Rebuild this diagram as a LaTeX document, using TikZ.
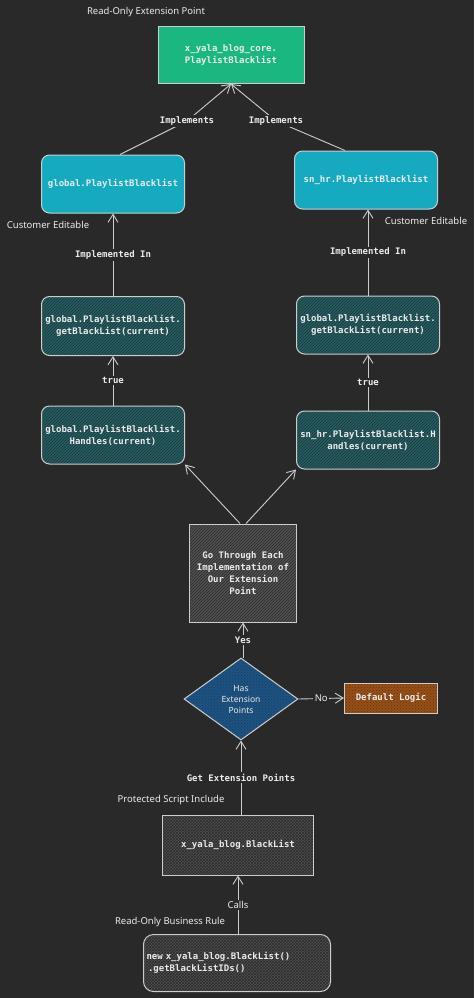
\documentclass[tikz,border=0pt]{standalone}
\usepackage{fontspec}
\setmonofont{DejaVu Sans Mono}
\newfontfamily\handfont{Noto Sans}
\usetikzlibrary{arrows.meta,patterns,shapes.geometric}
\definecolor{bg}{RGB}{41,41,41}
\definecolor{edgec}{RGB}{205,205,205}
\definecolor{txt}{RGB}{235,235,235}
\definecolor{greenf}{RGB}{26,184,128}
\definecolor{cyanf}{RGB}{21,170,191}
\definecolor{tealf}{RGB}{40,92,96}
\definecolor{tealp}{RGB}{24,58,62}
\definecolor{grayf}{RGB}{80,80,80}
\definecolor{grayp}{RGB}{44,44,44}
\definecolor{bluef}{RGB}{30,82,128}
\definecolor{bluep}{RGB}{22,62,100}
\definecolor{brownf}{RGB}{150,80,24}
\definecolor{brownp}{RGB}{100,50,14}
\tikzset{
  x=1pt, y=-1pt,
  mono/.style={font=\ttfamily\bfseries\fontsize{9}{12}\selectfont, text=txt},
  hand/.style={font=\handfont\fontsize{9.5}{11}\selectfont, text=txt},
  box/.style={mono, draw=edgec, line width=1pt, align=center, inner sep=2pt},
  solidbox/.style={box, fill=#1},
  hatchbox/.style={box, preaction={fill=#1}},
  conn/.style={draw=edgec, line width=0.9pt, -{Straight Barb[length=8pt,width=10pt,line width=0.9pt]}},
  lab/.style={mono, fill=bg, inner sep=1.5pt},
  hlab/.style={hand, fill=bg, inner sep=1.5pt},
}
\begin{document}
\begin{tikzpicture}
\useasboundingbox[fill=bg] (0,0) rectangle (474,998);

% nodes
\node[solidbox=greenf, minimum width=146pt, minimum height=57pt] (core) at (231,55) {x\_yala\_blog\_core.\\PlaylistBlacklist};
\node[solidbox=cyanf, rounded corners=8pt, minimum width=143pt, minimum height=58pt] (gpl) at (113,184) {global.PlaylistBlacklist};
\node[solidbox=cyanf, rounded corners=8pt, minimum width=143pt, minimum height=58pt] (spl) at (366,180) {sn\_hr.PlaylistBlacklist};
\node[hatchbox=tealf, pattern=north east lines, pattern color=tealp, rounded corners=8pt, minimum width=143pt, minimum height=59pt] (gget) at (113,326) {global.PlaylistBlacklist.\\getBlackList(current)};
\node[hatchbox=tealf, pattern=north east lines, pattern color=tealp, rounded corners=8pt, minimum width=143pt, minimum height=58pt] (sget) at (368,325) {global.PlaylistBlacklist.\\getBlackList(current)};
\node[hatchbox=tealf, pattern=north east lines, pattern color=tealp, rounded corners=8pt, minimum width=143pt, minimum height=58pt] (ghan) at (113,435) {global.PlaylistBlacklist.\\Handles(current)};
\node[hatchbox=tealf, pattern=north east lines, pattern color=tealp, rounded corners=8pt, minimum width=143pt, minimum height=58pt] (shan) at (368,440) {sn\_hr.PlaylistBlacklist.H\\andles(current)};
\node[hatchbox=grayf, pattern=north east lines, pattern color=grayp, minimum width=107pt, minimum height=98pt] (proc) at (243,573) {Go Through Each\\Implementation of\\Our Extension\\Point};
\node[hatchbox=bluef, pattern=crosshatch dots, pattern color=bluep, diamond, aspect=1.39, inner sep=0pt, minimum width=114pt, minimum height=82pt, hand, font=\handfont\fontsize{8.5}{11}\selectfont] (dia) at (241,699) {Has\\Extension\\Points};
\node[hatchbox=brownf, pattern=crosshatch dots, pattern color=brownp, minimum width=93pt, minimum height=30pt] (deflt) at (391,698) {Default Logic};
\node[hatchbox=grayf, pattern=crosshatch, pattern color=grayp, minimum width=151pt, minimum height=60pt] (bl) at (238,845) {x\_yala\_blog.BlackList};
\node[hatchbox=grayf, pattern=crosshatch, pattern color=grayp, rounded corners=10pt, minimum width=187pt, minimum height=57pt, inner xsep=3pt, text width=181pt, align=left] (br) at (237,963) {new x\_yala\_blog.BlackList()\\\,.getBlackListIDs()};

% free annotations
\node[hand] (t1) at (146,12) {Read-Only Extension Point};
\node[hand] (t2) at (48,225) {Customer Editable};
\node[hand] (t3) at (426,221) {Customer Editable};
\node[hand] (t4) at (171,800) {Protected Script Include};
\node[hand] (t5) at (170,922) {Read-Only Business Rule};

% connectors
\coordinate (le) at (187,121);
\coordinate (re) at (276,121);
\draw[draw=edgec, line width=0.9pt] ([xshift=7pt]gpl.north) -- (le);
\draw[conn] (le) -- (core.south);
\node[lab] at (le) {Implements};
\draw[draw=edgec, line width=0.9pt] ([xshift=-21pt]spl.north) -- (re);
\draw[conn] (re) -- (core.south);
\node[lab] at (re) {Implements};

\draw[conn] (gget.north) -- node[lab] {Implemented In} (gpl.south);
\draw[conn] (sget.north) -- node[lab] {Implemented In} (sget.north |- spl.south);
\draw[conn] (ghan.north) -- node[lab] {true} (gget.south);
\draw[conn] (shan.north) -- node[lab] {true} (shan.north |- sget.south);
\draw[conn] ([xshift=-3pt]proc.north) -- (ghan.south east);
\draw[conn] ([xshift=3pt]proc.north) -- (shan.south west);
\draw[conn] (dia.north -| proc.south) -- node[lab] {Yes} (proc.south);
\draw[conn] (dia.east) -- node[hlab] {No} (deflt.west);
\draw[conn] (dia.south |- bl.north) -- node[lab] {Get Extension Points} (dia.south);
\draw[conn] (br.north -| bl.south) -- node[hlab] {Calls} (bl.south);
\end{tikzpicture}
\end{document}
